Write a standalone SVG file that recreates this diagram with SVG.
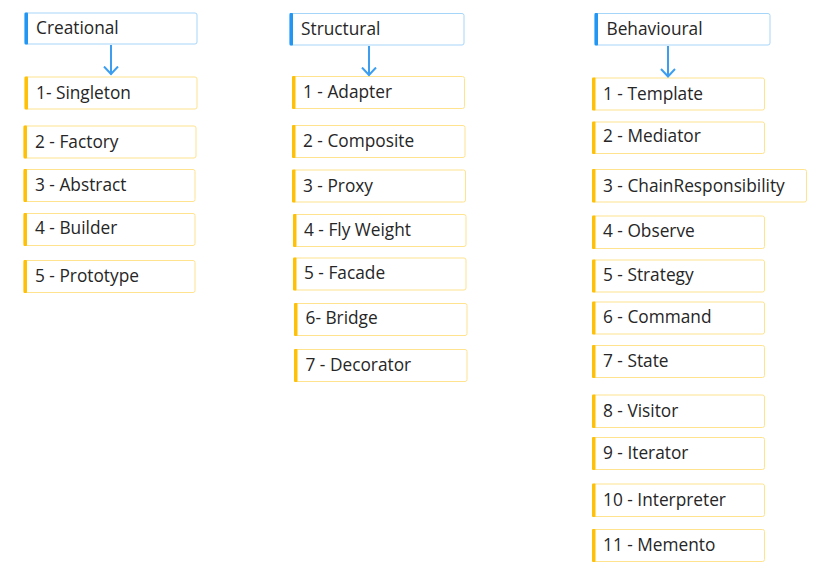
<svg xmlns="http://www.w3.org/2000/svg" width="817" height="578" viewBox="0 0 817 578">
<defs>
<style>
.hb{fill:#ffffff;stroke:#a6d5fa;stroke-width:1}
.hbar{fill:#2196f3}
.ib{fill:#ffffff;stroke:#ffe38f;stroke-width:1}
.ibar{fill:#ffc107}
.t{font-family:"Open Sans","Noto Sans",sans-serif;font-size:17.3px;fill:#262626}
.c{stroke:#3d9ef0;stroke-width:2;fill:none}
</style>
<marker id="ah" viewBox="0 0 16 10" refX="8" refY="9" markerWidth="16" markerHeight="10" markerUnits="userSpaceOnUse" orient="0">
<path d="M1,1 L8,8.5 L15,1" fill="none" stroke="#3d9ef0" stroke-width="2"/>
</marker>
</defs>
<rect x="0" y="0" width="817" height="578" fill="#ffffff"/>

<g id="creational">
<rect class="hb" x="25" y="13" width="172" height="31" rx="2"/><rect class="hbar" x="24.5" y="12.5" width="3.5" height="32" rx="1"/>
<text class="t" x="36" y="34">Creational</text>
</g>
<g id="singleton">
<rect class="ib" x="25" y="77" width="172" height="32" rx="2"/><rect class="ibar" x="24.5" y="76.5" width="3.5" height="33" rx="1"/>
<text class="t" x="36" y="98.5">1- Singleton</text>
</g>
<g id="factory">
<rect class="ib" x="24" y="126" width="172" height="32" rx="2"/><rect class="ibar" x="23.5" y="125.5" width="3.5" height="33" rx="1"/>
<text class="t" x="35" y="147.5">2 - Factory</text>
</g>
<g id="abstract">
<rect class="ib" x="24" y="169.5" width="171" height="32" rx="2"/><rect class="ibar" x="23.5" y="169" width="3.5" height="33" rx="1"/>
<text class="t" x="35" y="191">3 - Abstract</text>
</g>
<g id="builder">
<rect class="ib" x="24" y="213.5" width="171" height="32" rx="2"/><rect class="ibar" x="23.5" y="213" width="3.5" height="33" rx="1"/>
<text class="t" x="35" y="234">4 - Builder</text>
</g>
<g id="prototype">
<rect class="ib" x="24" y="260.5" width="171" height="32" rx="2"/><rect class="ibar" x="23.5" y="260" width="3.5" height="33" rx="1"/>
<text class="t" x="35" y="282">5 - Prototype</text>
</g>

<g id="structural">
<rect class="hb" x="290" y="13.5" width="174" height="31.5" rx="2"/><rect class="hbar" x="289.5" y="13" width="3.5" height="32.5" rx="1"/>
<text class="t" x="301" y="35">Structural</text>
</g>
<g id="adapter">
<rect class="ib" x="292.5" y="76.5" width="172" height="32" rx="2"/><rect class="ibar" x="292" y="76" width="3.5" height="33" rx="1"/>
<text class="t" x="303" y="97.7">1 - Adapter</text>
</g>
<g id="composite">
<rect class="ib" x="292.5" y="125.5" width="172.5" height="32" rx="2"/><rect class="ibar" x="292" y="125" width="3.5" height="33" rx="1"/>
<text class="t" x="303" y="146.7">2 - Composite</text>
</g>
<g id="proxy">
<rect class="ib" x="292.5" y="170" width="173" height="32" rx="2"/><rect class="ibar" x="292" y="169.5" width="3.5" height="33" rx="1"/>
<text class="t" x="303" y="191.7">3 - Proxy</text>
</g>
<g id="flyweight">
<rect class="ib" x="293.5" y="214.5" width="172.5" height="32" rx="2"/><rect class="ibar" x="293" y="214" width="3.5" height="33" rx="1"/>
<text class="t" x="304" y="236">4 - Fly Weight</text>
</g>
<g id="facade">
<rect class="ib" x="293.5" y="258" width="172.5" height="32" rx="2"/><rect class="ibar" x="293" y="257.5" width="3.5" height="33" rx="1"/>
<text class="t" x="304" y="279">5 - Facade</text>
</g>
<g id="bridge">
<rect class="ib" x="294.5" y="303.5" width="172.5" height="32" rx="2"/><rect class="ibar" x="294" y="303" width="3.5" height="33" rx="1"/>
<text class="t" x="305.5" y="324.3">6- Bridge</text>
</g>
<g id="decorator">
<rect class="ib" x="294.5" y="349.5" width="172.5" height="32" rx="2"/><rect class="ibar" x="294" y="349" width="3.5" height="33" rx="1"/>
<text class="t" x="305.5" y="370.7">7 - Decorator</text>
</g>

<g id="behavioural">
<rect class="hb" x="595" y="13.5" width="175" height="31.5" rx="2"/><rect class="hbar" x="594.5" y="13" width="3.5" height="32.5" rx="1"/>
<text class="t" x="606.5" y="35">Behavioural</text>
</g>
<g id="template">
<rect class="ib" x="592.5" y="78" width="172" height="32" rx="2"/><rect class="ibar" x="592" y="77.5" width="3.5" height="33" rx="1"/>
<text class="t" x="603" y="100">1 - Template</text>
</g>
<g id="mediator">
<rect class="ib" x="592.5" y="122" width="172" height="31.5" rx="2"/><rect class="ibar" x="592" y="121.5" width="3.5" height="32.5" rx="1"/>
<text class="t" x="603" y="142.3">2 - Mediator</text>
</g>
<g id="chain">
<rect class="ib" x="592.5" y="169.5" width="214" height="32.5" rx="2"/><rect class="ibar" x="592" y="169" width="3.5" height="33.5" rx="1"/>
<text class="t" x="603" y="191.7">3 - ChainResponsibility</text>
</g>
<g id="observe">
<rect class="ib" x="592.5" y="216" width="172" height="32.5" rx="2"/><rect class="ibar" x="592" y="215.5" width="3.5" height="33.5" rx="1"/>
<text class="t" x="603" y="237.3">4 - Observe</text>
</g>
<g id="strategy">
<rect class="ib" x="592.5" y="260" width="172" height="32" rx="2"/><rect class="ibar" x="592" y="259.5" width="3.5" height="33" rx="1"/>
<text class="t" x="603" y="281.3">5 - Strategy</text>
</g>
<g id="command">
<rect class="ib" x="592.5" y="302" width="172" height="32" rx="2"/><rect class="ibar" x="592" y="301.5" width="3.5" height="33" rx="1"/>
<text class="t" x="603" y="323.3">6 - Command</text>
</g>
<g id="state">
<rect class="ib" x="592.5" y="345.5" width="172" height="32" rx="2"/><rect class="ibar" x="592" y="345" width="3.5" height="33" rx="1"/>
<text class="t" x="603" y="366.7">7 - State</text>
</g>
<g id="visitor">
<rect class="ib" x="592.5" y="395" width="172" height="32.5" rx="2"/><rect class="ibar" x="592" y="394.5" width="3.5" height="33.5" rx="1"/>
<text class="t" x="603" y="416.7">8 - Visitor</text>
</g>
<g id="iterator">
<rect class="ib" x="592.5" y="437.5" width="172" height="32" rx="2"/><rect class="ibar" x="592" y="437" width="3.5" height="33" rx="1"/>
<text class="t" x="603" y="458.7">9 - Iterator</text>
</g>
<g id="interpreter">
<rect class="ib" x="592.5" y="484" width="172" height="32.5" rx="2"/><rect class="ibar" x="592" y="483.5" width="3.5" height="33.5" rx="1"/>
<text class="t" x="603" y="505.7">10 - Interpreter</text>
</g>
<g id="memento">
<rect class="ib" x="592.5" y="529.5" width="172" height="32" rx="2"/><rect class="ibar" x="592" y="529" width="3.5" height="33" rx="1"/>
<text class="t" x="603" y="550.7">11 - Memento</text>
</g>

<g id="connectors">
<path class="c" d="M111,45 V74.5" marker-end="url(#ah)"/>
<path class="c" d="M369,46 V75.5" marker-end="url(#ah)"/>
<path class="c" d="M668,46 V77"  marker-end="url(#ah)"/>
</g>
</svg>
